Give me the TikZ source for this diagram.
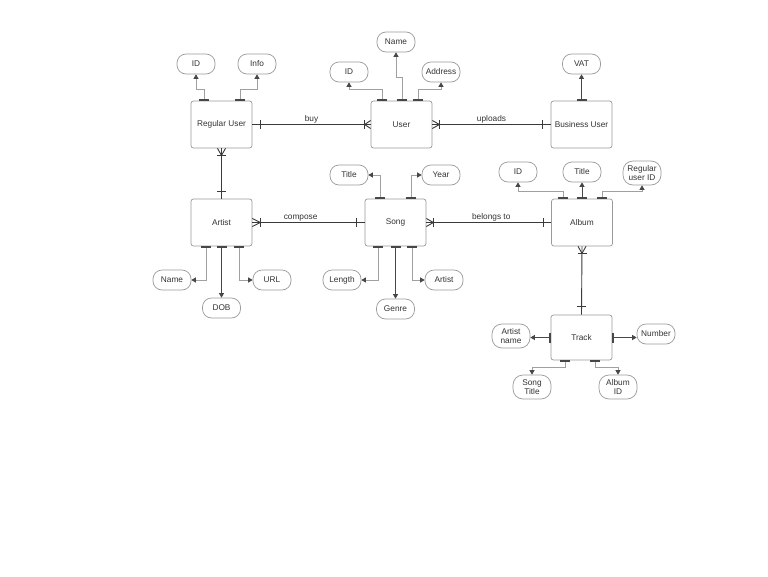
\documentclass[tikz,border=0pt]{standalone}
\usepackage{fontspec}
\setmainfont{Liberation Sans}
\usetikzlibrary{arrows.meta,calc}
\definecolor{txt}{HTML}{333333}
\definecolor{relc}{HTML}{3A3A3A}
\definecolor{boxc}{HTML}{9A9A9A}
\definecolor{lightl}{HTML}{A0A0A0}
\definecolor{darkl}{HTML}{474747}
\newcommand\mytickv[2]{\draw[rel] ($(#1)+(#2,-4.5)$) -- ($(#1)+(#2,4.5)$);}
\newcommand\mytickh[2]{\draw[rel] ($(#1)+(-4.5,#2)$) -- ($(#1)+(4.5,#2)$);}
\newcommand\mycrowh[2]{\draw[rel] ($(#1)+(#2,0)$) -- ($(#1)+(0,-4)$) ($(#1)+(#2,0)$) -- ($(#1)+(0,4)$); \mytickv{#1}{#2}}
\newcommand\mycrowv[2]{\draw[rel] ($(#1)+(0,#2)$) -- ($(#1)+(-4,0)$) ($(#1)+(0,#2)$) -- ($(#1)+(4,0)$); \mytickh{#1}{#2}}
\tikzset{
  entity/.style={draw=boxc, line width=0.7pt, rounded corners=2.5pt, fill=white,
    minimum width=61pt, minimum height=47pt, inner sep=0pt, text=txt,
    font=\fontsize{8.3}{10}\selectfont},
  attr/.style={draw=boxc, line width=0.7pt, rounded corners=9pt, fill=white,
    minimum width=38pt, minimum height=20pt, inner sep=0pt, text=txt, align=center,
    font=\fontsize{8.3}{9.5}\selectfont},
  attr2/.style={attr, minimum height=24pt, rounded corners=10pt},
  rel/.style={draw=relc, line width=0.9pt},
  lbl/.style={text=txt, font=\fontsize{8.3}{10}\selectfont, inner sep=1pt},
  al/.style={draw=lightl, line width=0.8pt,
    {Bar[width=10pt,line width=1.6pt,color=darkl]}-{Triangle[length=4.5pt,width=5pt,color=darkl]}},
  ald/.style={al, draw=darkl, line width=1pt},
}
\begin{document}
\begin{tikzpicture}[x=1pt,y=-1pt]
\useasboundingbox[fill=white] (0,0) rectangle (768,576);
% entities
\node[entity] (ru) at (221.5,124.5) {Regular User};
\node[entity] (user) at (401.5,124.5) {User};
\node[entity] (bu) at (581.5,124.5) {Business User};
\node[entity] (artist) at (221.5,222.5) {Artist};
\node[entity] (song) at (395.5,222.5) {Song};
\node[entity] (album) at (582,222.5) {Album};
\node[entity, minimum height=45pt] (track) at (581.5,337.5) {Track};
% attributes
\node[attr] (ruid) at (196,64) {ID};
\node[attr] (ruinfo) at (257,64) {Info};
\node[attr] (uname) at (396,42) {Name};
\node[attr] (uid) at (349,72) {ID};
\node[attr] (uaddr) at (441,72) {Address};
\node[attr] (vat) at (581.5,64) {VAT};
\node[attr] (aname) at (172,280) {Name};
\node[attr] (adob) at (221.5,308) {DOB};
\node[attr] (aurl) at (272,280) {URL};
\node[attr] (stitle) at (349,175) {Title};
\node[attr] (syear) at (441,175) {Year};
\node[attr] (slen) at (342,280) {Length};
\node[attr] (sgenre) at (395.5,309) {Genre};
\node[attr] (sartist) at (444,280) {Artist};
\node[attr] (alid) at (518,172) {ID};
\node[attr] (altitle) at (582,172) {Title};
\node[attr2] (alruid) at (642,173) {Regular\\user ID};
\node[attr2] (tan) at (511,336) {Artist\\name};
\node[attr] (tnum) at (656,334) {Number};
\node[attr2] (tst) at (532,387) {Song\\Title};
\node[attr2] (taid) at (618,387) {Album\\ID};
% attribute connectors
\draw[al] ([xshift=-17.5]ru.north) -- ++(0,-11) -| (ruid.south);
\draw[al] ([xshift=18.5]ru.north) -- ++(0,-11) -| (ruinfo.south);
\draw[al] ([xshift=-19.5]user.north) -- ++(0,-11) -| (uid.south);
\draw[al] ([xshift=0.5]user.north) -- ++(0,-23) -| (uname.south);
\draw[al] ([xshift=16.5]user.north) -- ++(0,-11) -| (uaddr.south);
\draw[ald] (bu.north) -- (vat.south);
\draw[al] ([xshift=-15.5]artist.south) |- (aname.east);
\draw[ald] (artist.south) -- (adob.north);
\draw[al] ([xshift=17.5]artist.south) |- (aurl.west);
\draw[al] ([xshift=-15.5]song.north) |- (stitle.east);
\draw[al] ([xshift=15.5]song.north) |- (syear.west);
\draw[al] ([xshift=-17.5]song.south) |- (slen.east);
\draw[ald] (song.south) -- (sgenre.north);
\draw[al] ([xshift=16.5]song.south) |- (sartist.west);
\draw[al] ([xshift=-19]album.north) -- ++(0,-7) -| (alid.south);
\draw[ald] (album.north) -- (altitle.south);
\draw[al] ([xshift=20]album.north) -- ++(0,-7) -| (alruid.south);
\draw[ald] (track.west) -- (track.west -| tan.east);
\draw[ald] (track.east) -- (track.east -| tnum.west);
\draw[al] ([xshift=-16.5]track.south) -- ++(0,7) -| (tst.north);
\draw[al] ([xshift=13.5]track.south) -- ++(0,7) -| (taid.north);
% relationships
\draw[rel] (ru.east) -- node[lbl, above] {buy} (user.west);
\mytickv{ru.east}{8}
\mycrowh{user.west}{-6}
\draw[rel] (user.east) -- node[lbl, above] {uploads} (bu.west);
\mycrowh{user.east}{7}
\mytickv{bu.west}{-8}
\draw[rel] (ru.south) -- (artist.north);
\mycrowv{ru.south}{7}
\mytickh{artist.north}{-7}
\draw[rel] (artist.east) -- node[lbl, above, pos=0.43] {compose} (song.west);
\mycrowh{artist.east}{8}
\mytickv{song.west}{-8}
\draw[rel] (song.east) -- node[lbl, above, pos=0.52] {belongs to} (album.west);
\mycrowh{song.east}{7}
\mytickv{album.west}{-8}
\draw[rel] (album.south) -- (track.north);
\mycrowv{album.south}{7}
\mytickh{track.north}{-8}
\end{tikzpicture}
\end{document}
